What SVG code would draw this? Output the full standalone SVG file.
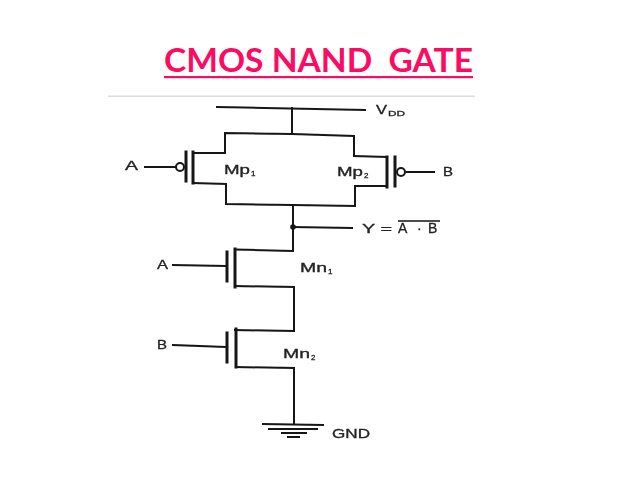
<svg xmlns="http://www.w3.org/2000/svg" width="638" height="478" viewBox="0 0 638 478">
<style>
.w{fill:none;stroke:#161616;stroke-width:2;stroke-linecap:square}
.t{stroke-width:3}
.g{stroke-dasharray:9 1}
.l{font-family:"Liberation Sans",Arial,sans-serif;font-size:12px;fill:#222;stroke:#222;stroke-width:.3}
.s{font-size:8px}
.title{font-family:Lato,"Liberation Sans",sans-serif;font-weight:700;font-size:32px;fill:#fb0b62;white-space:pre}
</style>
<defs><filter id="soft" x="-5%" y="-5%" width="110%" height="110%"><feGaussianBlur stdDeviation="0.45"/></filter></defs>
<rect width="638" height="478" fill="#fff"/>
<g id="title">
<text class="title" x="164" y="72" textLength="309" lengthAdjust="spacingAndGlyphs">CMOS NAND  GATE</text>
<rect x="164" y="76" width="309" height="2.2" fill="#fb0b62"/>
</g>
<rect id="divider" x="108" y="95.500" width="367" height="1.500" fill="#dcdcdc"/>
<g filter="url(#soft)">
<g id="connectors">
<path class="w" d="M217 107 L365 110"/>
<path class="w" d="M292 108 V133"/>
<path class="w" d="M225 153 V133 L292 134 L354 136 V156"/>
<path class="w" d="M226 184 V204 L293 205 L355 206 V186"/>
<path class="w" d="M293 205 V250"/>
<path class="w" d="M293 227 L352 228"/>
<path class="w" d="M294 287 V331"/>
<path class="w" d="M294 368 V424"/>
</g>
<g id="vdd">
<text class="l" x="376" y="114" textLength="11" lengthAdjust="spacingAndGlyphs">V</text>
<text class="l s" x="388" y="116" textLength="17" lengthAdjust="spacingAndGlyphs">DD</text>
</g>
<g id="mp1">
<path class="w" d="M145 167 H175"/>
<circle class="w" cx="180" cy="167" r="4" stroke-linecap="butt"/>
<path class="w t g" d="M186 152 V182"/>
<path class="w t" d="M193 152 V183"/>
<path class="w" d="M193 153 H225 M193 183 L226 184"/>
<text class="l" x="125" y="170" textLength="13" lengthAdjust="spacingAndGlyphs">A</text>
<text class="l" x="224" y="174" textLength="26" lengthAdjust="spacingAndGlyphs">Mp</text>
<text class="l s" x="251" y="176">1</text>
</g>
<g id="mp2">
<path class="w" d="M407 172 H434"/>
<circle class="w" cx="401" cy="172" r="4"/>
<path class="w t g" d="M395 157 V187"/>
<path class="w t" d="M387 157 V187"/>
<path class="w" d="M354 156 L387 157 M355 186 H387"/>
<text class="l" x="443" y="176" textLength="10" lengthAdjust="spacingAndGlyphs">B</text>
<text class="l" x="337" y="176" textLength="26" lengthAdjust="spacingAndGlyphs">Mp</text>
<text class="l s" x="364" y="178">2</text>
</g>
<g id="output">
<circle cx="293" cy="227" r="2.800" fill="#161616"/>
<text class="l" x="362" y="233" textLength="30" lengthAdjust="spacingAndGlyphs">Y =</text>
<text class="l" x="398 417 428" y="233" font-size="14" style="font-size:14px">A·B</text>
<path d="M398 221 H440" fill="none" stroke="#161616" stroke-width="1.400"/>
</g>
<g id="mn1">
<path class="w" d="M173 265 L225 266"/>
<path class="w t g" d="M227 252 V282"/>
<path class="w t" d="M235 249 V287"/>
<path class="w" d="M235 249.500 L293 251 M235 286 L294 287"/>
<text class="l" x="157" y="269" textLength="11" lengthAdjust="spacingAndGlyphs">A</text>
<text class="l" x="300" y="272" textLength="27" lengthAdjust="spacingAndGlyphs">Mn</text>
<text class="l s" x="328" y="274">1</text>
</g>
<g id="mn2">
<path class="w" d="M173 345 L225 347"/>
<path class="w t g" d="M227 333 V363"/>
<path class="w t" d="M236 329 V367"/>
<path class="w" d="M235 330 L294 331 M236 367 L294 368"/>
<text class="l" x="157" y="349" textLength="10" lengthAdjust="spacingAndGlyphs">B</text>
<text class="l" x="283" y="358" textLength="27" lengthAdjust="spacingAndGlyphs">Mn</text>
<text class="l s" x="311" y="360">2</text>
</g>
<g id="gnd">
<path class="w" d="M263 424 L323 425 M269 429 H317 M282 433 H306 M288 437 H299"/>
<text class="l" x="332" y="438" textLength="38" lengthAdjust="spacingAndGlyphs">GND</text>
</g>
</g>
</svg>
